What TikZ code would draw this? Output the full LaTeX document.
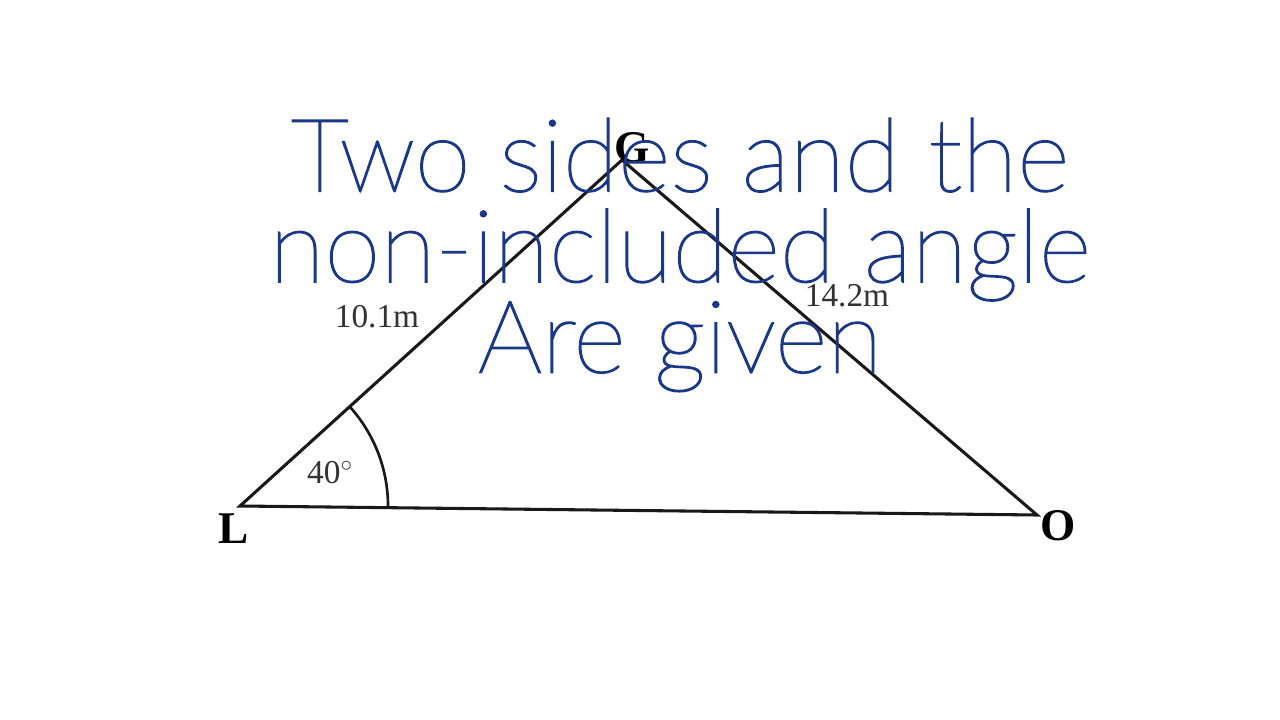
\documentclass[tikz,border=0pt]{standalone}
\usepackage{fontspec}
\setmainfont{Liberation Serif}
\newfontfamily\thinsans{Lato Hairline}[BoldFont=Lato Hairline,BoldFeatures={FakeBold=1.7}]
\definecolor{titleblue}{HTML}{1A388A}
\begin{document}
\begin{tikzpicture}[x=0.75pt,y=-0.75pt,
  side/.style={line width=2.3pt,black!90,line join=miter},
  vlabel/.style={font=\fontsize{34}{34}\selectfont\bfseries,inner sep=0pt},
  mlabel/.style={font=\fontsize{25}{25}\selectfont,inner sep=0pt,text=black!80},
  title/.style={font=\thinsans\bfseries\fontsize{76}{68}\selectfont,text=titleblue,align=center,inner sep=0pt}]
\useasboundingbox (0,0) rectangle (1280,720);
\fill[white] (0,0) rectangle (1280,720);
\coordinate (L) at (240,506);
\coordinate (G) at (622,160);
\coordinate (O) at (1037,515);
\draw[side] (O) -- (L) -- (G) -- cycle;
\draw[side,line width=2pt] ([shift={(148,0)}]L) arc[start angle=0,end angle=-42,radius=148];
\node[vlabel] (lL) at (234,529) {L};
\node[vlabel] (lO) at (1058,526) {O};
\node[vlabel] (lG) at (632,148) {G};
\node[mlabel] (a) at (377,317) {10.1m};
\node[mlabel] (b) at (847,296) {14.2m};
\node[mlabel] (c) at (330,473) {40$^\circ$};
\node[title] (t) at (680,255) {Two sides and the\\non-included angle\\Are given};
\end{tikzpicture}
\end{document}
